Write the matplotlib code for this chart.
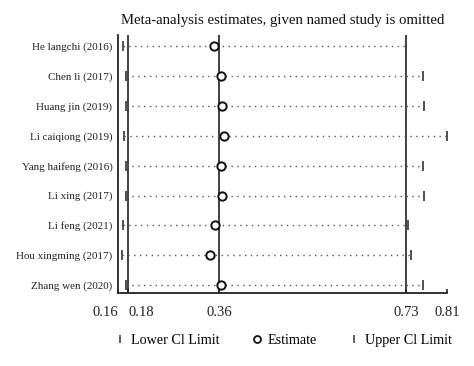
import matplotlib
matplotlib.use("Agg")
from matplotlib import pyplot as plt
from matplotlib.lines import Line2D

studies = ["He langchi (2016)", "Chen li (2017)", "Huang jin (2019)", "Li caiqiong (2019)",
           "Yang haifeng (2016)", "Li xing (2017)", "Li feng (2021)", "Hou xingming (2017)",
           "Zhang wen (2020)"]
estimate = [0.350, 0.363, 0.365, 0.369, 0.364, 0.366, 0.352, 0.342, 0.364]
lower = [0.170, 0.176, 0.176, 0.171, 0.175, 0.176, 0.170, 0.168, 0.175]
upper = [0.729, 0.763, 0.765, 0.810, 0.763, 0.765, 0.733, 0.738, 0.763]
ref_lines = [0.18, 0.36, 0.73]
xticks = [0.16, 0.18, 0.36, 0.73, 0.81]

plt.rcParams['font.family'] = ['Liberation Serif', 'DejaVu Serif']

fig = plt.figure(figsize=(4.74, 3.66), dpi=100)
ax = fig.add_axes([0.249, 0.199, 0.694, 0.705])

pos = list(range(1, len(studies) + 1))

for x in ref_lines:
    ax.axvline(x, color='#333333', lw=1.3, zorder=1)

ax.hlines(pos, lower, upper, colors='#555555', linestyles=(0, (1, 3.2)), lw=1.0, zorder=2)
ax.plot(lower, pos, ls='none', marker='|', ms=7, mew=1.3, color='#444444', zorder=3)
ax.plot(upper, pos, ls='none', marker='|', ms=7, mew=1.3, color='#444444', zorder=3)
ax.plot(estimate, pos, ls='none', marker='o', ms=6, mew=1.4, mfc='white', mec='#111111', zorder=4)

ax.set_xlim(0.16, 0.81)
ax.set_ylim(9.27, 0.63)
ax.set_xticks(xticks)
labs = ax.set_xticklabels(["%.2f" % v for v in xticks], fontsize=10.5, color='#222222')
# first two labels sit too close, push them apart like the original
labs[0].set_horizontalalignment('right')
labs[1].set_horizontalalignment('left')
ax.set_yticks(pos)
ax.set_yticklabels(studies, fontsize=7.9, color='#222222')
ax.tick_params(axis='y', length=0, pad=4)
ax.tick_params(axis='x', direction='in', length=3, width=1.2, pad=9, colors='#222222')
for s in ['top', 'right']:
    ax.spines[s].set_visible(False)
for s in ['left', 'bottom']:
    ax.spines[s].set_linewidth(1.3)
    ax.spines[s].set_color('#222222')

ax.set_title("Meta-analysis estimates, given named study is omitted", fontsize=10.6,
             pad=8, color='#111111')

handles = [
    Line2D([], [], ls='none', marker='|', ms=6, mew=1.2, color='#444444'),
    Line2D([], [], ls='none', marker='o', ms=5, mew=1.3, mfc='white', mec='#111111'),
    Line2D([], [], ls='none', marker='|', ms=6, mew=1.2, color='#444444'),
]
fig.legend(handles, ["Lower Cl Limit", "Estimate", "Upper Cl Limit"], loc='center',
           bbox_to_anchor=(0.596, 0.07), ncol=3, frameon=False, fontsize=10.2,
           handletextpad=0.25, columnspacing=2.15, handlelength=1.0)

fig.savefig("out.png", dpi=100)
